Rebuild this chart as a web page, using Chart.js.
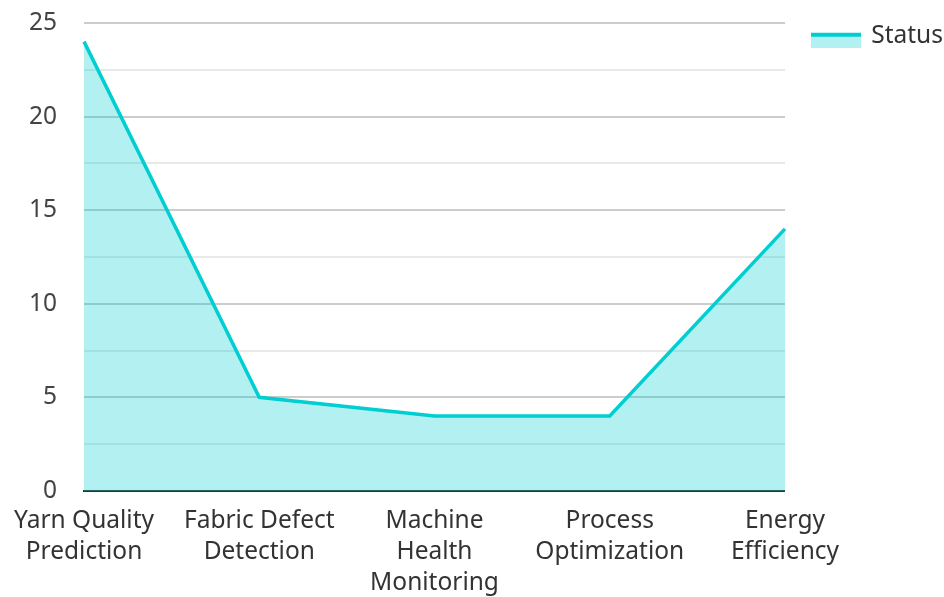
<!DOCTYPE html>
<html>
<head>
<meta charset="utf-8">
<script src="https://cdn.jsdelivr.net/npm/chart.js@4/dist/chart.umd.min.js"></script>
<style>
html,body{margin:0;padding:0;background:#fff;}
#wrap{width:944px;height:597px;position:relative;}
</style>
</head>
<body>
<div id="wrap"><canvas id="c"></canvas></div>
<script>
const categories = [
  ['Yarn Quality','Prediction'],
  ['Fabric Defect','Detection'],
  ['Machine','Health','Monitoring'],
  ['Process','Optimization'],
  ['Energy','Efficiency']
];
const seriesName = 'Status';
const statusValues = [24, 5, 4, 4, 14];
const yMin = 0, yMax = 25, yStep = 2.5, yLabelStep = 5;

const lineColor = '#00CED1';
const fillColor = 'rgba(0,206,209,0.3)';

// legend swatch: top line + fill below (transparent margin shifts it slightly)
const sw = document.createElement('canvas');
sw.width = 54; sw.height = 23;
const sctx = sw.getContext('2d');
sctx.fillStyle = fillColor; sctx.fillRect(4,8,50,15);
sctx.fillStyle = lineColor; sctx.fillRect(4,8,50,4);

const FS = 24.5;
Chart.defaults.font.family = '"Noto Sans", "Open Sans", sans-serif';
Chart.defaults.font.size = FS;
Chart.defaults.color = '#333';

new Chart(document.getElementById('c'), {
  type: 'line',
  data: {
    labels: categories,
    datasets: [{
      label: seriesName,
      data: statusValues,
      borderColor: lineColor,
      backgroundColor: fillColor,
      borderWidth: 3.5,
      fill: 'origin',
      tension: 0,
      pointRadius: 0,
      pointHoverRadius: 0
    }]
  },
  options: {
    responsive: true,
    maintainAspectRatio: false,
    animation: false,
    layout: { padding: { top: 0, right: -9, left: 0, bottom: -16 } },
    plugins: {
      legend: {
        position: 'right',
        align: 'start',
        labels: {
          usePointStyle: true,
          pointStyle: sw,
          pointStyleWidth: 50,
          boxHeight: 15,
          padding: 24,
          color: '#333',
          font: { size: FS }
        }
      },
      tooltip: { enabled: false }
    },
    scales: {
      x: {
        offset: false,
        grid: { display: false, drawTicks: false },
        border: { display: true, color: '#333', width: 2 },
        ticks: { padding: 14, maxRotation: 0, autoSkip: false, font: { size: FS, lineHeight: 1.28 }, color: '#333' }
      },
      y: {
        min: yMin, max: yMax,
        border: { display: false },
        grid: {
          drawTicks: true,
          tickLength: 20,
          tickColor: 'rgba(0,0,0,0)',
          color: (c) => (c.tick && c.tick.value % yLabelStep === 0) ? '#cccccc' : '#e9e9e9',
          lineWidth: 2
        },
        ticks: {
          stepSize: yStep,
          padding: 7,
          font: { size: FS, lineHeight: 1.3 },
          color: '#444',
          callback: (v) => (v % yLabelStep === 0 ? v : '')
        }
      }
    }
  }
});
</script>
</body>
</html>
